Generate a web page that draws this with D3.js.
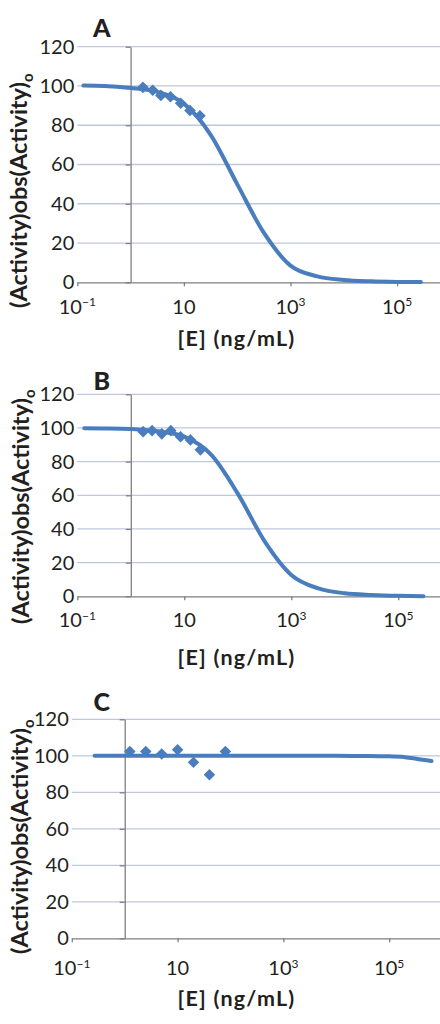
<!DOCTYPE html>
<html>
<head>
<meta charset="utf-8">
<script src="https://cdn.jsdelivr.net/npm/d3@7"></script>
<style>
  body { margin: 0; background: #fff; }
  svg { display: block; }
  text { font-family: Lato, "Open Sans", sans-serif; fill: #231f20; }
</style>
</head>
<body>
<div id="chart"></div>
<script>
// values
let yTicks = [0, 20, 40, 60, 80, 100, 120]
let xTicks = [0.1, 10, 1e3, 1e5]
let xTickBase = ['10', '10', '10', '10']
let xTickPow = ['\u22121', '', '3', '5']

// panel A
let concA = [1.7, 2.6, 3.7, 5.6, 8.7, 13, 20]
let actA = [99.3, 97.8, 95.2, 94.5, 91.2, 87.5, 84.8]
let fitXA = [0.13, 0.32, 1, 3.2, 10, 32, 100, 320, 1e3, 3.2e3, 1e4, 3.2e4, 1e5, 2.8e5]
let fitYA = [100.2, 100, 99, 97, 91, 75, 50, 25, 8.5, 3, 1.2, 0.5, 0.2, 0.1]

// panel B
let concB = [1.7, 2.5, 3.8, 5.6, 8.5, 13, 20]
let actB = [97.8, 98.4, 96.5, 98.4, 94.8, 92.9, 87]
let fitXB = [0.135, 0.32, 1, 3.2, 10, 32, 100, 320, 1e3, 3.2e3, 1e4, 3.2e4, 1e5, 2.95e5]
let fitYB = [99.8, 99.7, 99.4, 98, 94.8, 84, 61, 32.5, 12.7, 4.7, 1.8, 0.8, 0.3, 0.1]

// panel C
let concC = [1.25, 2.5, 5, 10, 20, 40, 80]
let actC = [102.4, 102.4, 101, 103.3, 96.4, 89.6, 102.4]
let fitXC = [0.27, 1, 10, 100, 1e3, 1e4, 3.2e4, 1e5, 2e5, 3.2e5, 6.3e5]
let fitYC = [100, 100, 100, 100, 100, 100, 99.9, 99.7, 99.2, 98.4, 97.1]

let panels = [
  {id: 'A', conc: concA, act: actA, fitX: fitXA, fitY: fitYA,
   x0: 77.3, dec: 53.3, top: 46.7, bot: 282.3, labelY: 37.3, tickY: 313.5, titleY: 346, ytX: 26.7, ytY: 308, mk: 68},
  {id: 'B', conc: concB, act: actB, fitX: fitXB, fitY: fitYB,
   x0: 77.3, dec: 53.5, top: 394.3, bot: 596.3, labelY: 390, tickY: 627.3, titleY: 665, ytX: 28.5, ytY: 624, mk: 68},
  {id: 'C', conc: concC, act: actC, fitX: fitXC, fitY: fitYC,
   x0: 71.8, dec: 52.9, top: 719.3, bot: 938.3, labelY: 710.7, tickY: 975, titleY: 1006, ytX: 28, ytY: 954, mk: 66}
]

let blue = '#4a7dbd'

let svg = d3.select('div#chart')
  .append('svg')
    .attr('width', 440)
    .attr('height', 1024)

svg.append('rect')
  .attr('width', 440)
  .attr('height', 1024)
  .attr('fill', '#fff')

function drawPanel(p) {
  let g = svg.append('g')
  let x = d3.scaleLog().domain([0.1, 1e6]).range([p.x0, p.x0 + 7 * p.dec])
  let y = d3.scaleLinear().domain([0, 120]).range([p.bot, p.top])

  // horizontal gridlines
  g.append('g').selectAll('line')
    .data(yTicks.filter(d => d > 0))
    .enter().append('line')
      .attr('x1', x(0.1))
      .attr('x2', 440)
      .attr('y1', d => y(d))
      .attr('y2', d => y(d))
      .attr('stroke', '#bfc7dc')
      .attr('stroke-width', 1.3)

  // vertical axis crosses at x = 1, ticks only
  let yAxis = g.append('g')
    .attr('transform', `translate(${x(1)},0)`)
    .call(d3.axisLeft(y).tickValues(yTicks).tickSize(5).tickSizeOuter(0).tickFormat(''))
  yAxis.selectAll('path, line').attr('stroke', '#7f7f7f').attr('stroke-width', 1.3)

  // y tick labels sit at the left edge
  let yLab = g.append('g')
    .attr('transform', `translate(${x(0.1)},0)`)
    .call(d3.axisLeft(y).tickValues(yTicks).tickSize(0).tickPadding(3))
  yLab.select('.domain').remove()
  yLab.selectAll('text')
    .attr('font-family', 'Lato, sans-serif')
    .attr('font-size', 20)
    .attr('font-weight', 400)
    .attr('fill', '#231f20')

  // x axis baseline
  let xAxis = g.append('g')
    .attr('transform', `translate(0,${y(0)})`)
    .call(d3.axisBottom(x).tickValues(xTicks).tickSize(4).tickSizeOuter(0).tickFormat(''))
  xAxis.selectAll('path, line').attr('stroke', '#7f7f7f').attr('stroke-width', 1.3)

  // x tick labels with exponents
  let xl = g.append('g').selectAll('text')
    .data(xTicks)
    .enter().append('text')
      .attr('x', d => x(d))
      .attr('y', p.tickY)
      .attr('text-anchor', 'middle')
      .attr('font-size', 20)
      .attr('font-weight', 400)
  xl.append('tspan').text((d, i) => xTickBase[i])
  xl.append('tspan')
    .attr('dy', -7.5)
    .attr('font-size', 12)
    .text((d, i) => xTickPow[i])

  // fitted curve
  let line = d3.line()
    .x(d => x(d[0]))
    .y(d => y(d[1]))
    .curve(d3.curveMonotoneX)
  g.append('path')
    .datum(d3.zip(p.fitX, p.fitY))
    .attr('d', line)
    .attr('fill', 'none')
    .attr('stroke', blue)
    .attr('stroke-width', 4)
    .attr('stroke-linecap', 'round')

  // data points (square turned 45deg)
  let sym = d3.symbol(d3.symbolSquare, p.mk)
  g.append('g').selectAll('path')
    .data(d3.zip(p.conc, p.act))
    .enter().append('path')
      .attr('d', sym)
      .attr('transform', d => `translate(${x(d[0])},${y(d[1])}) rotate(45)`)
      .attr('fill', blue)

  // panel letter
  g.append('text')
    .attr('x', 101.7)
    .attr('y', p.labelY)
    .attr('text-anchor', 'middle')
    .attr('font-size', 25)
    .attr('font-weight', 900)
    .text(p.id)

  // x title
  g.append('text')
    .attr('x', 236.5)
    .attr('y', p.titleY)
    .attr('text-anchor', 'middle')
    .attr('font-size', 21.5)
    .attr('font-weight', 700)
    .attr('letter-spacing', 1.2)
    .text('[E] (ng/mL)')

  // y title, read bottom to top
  let yt = g.append('text')
    .attr('transform', `translate(${p.ytX},${p.ytY}) rotate(-90)`)
    .attr('text-anchor', 'start')
    .attr('font-size', 23.5)
    .attr('font-weight', 700)
  yt.append('tspan').text('(Activity)obs(Activity)')
  yt.append('tspan')
    .attr('dy', 6)
    .attr('font-size', 15)
    .text('o')
}

panels.forEach(drawPanel)
</script>
</body>
</html>
